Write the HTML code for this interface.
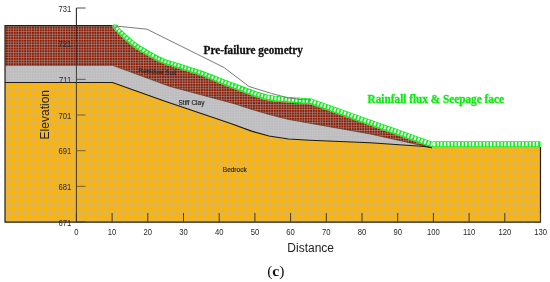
<!DOCTYPE html>
<html><head><meta charset="utf-8"><title>Slope model</title>
<style>
html,body{margin:0;padding:0;background:#fff;width:550px;height:282px;overflow:hidden}
svg{display:block}
.tk{font-family:"Liberation Sans",Arial,sans-serif;font-size:8.5px;fill:#26262c}
.ax{font-family:"Liberation Sans",Arial,sans-serif;font-size:12px;fill:#222}
.sm{font-family:"Liberation Sans",Arial,sans-serif;font-size:6.5px;fill:#222;stroke:#222;stroke-width:0.15px}
.pf{font-family:"Liberation Serif","Times New Roman",serif;font-weight:bold;font-size:12.4px;fill:#111;stroke:#111;stroke-width:0.3px}
.rf{font-family:"Liberation Serif","Times New Roman",serif;font-weight:bold;font-size:12.6px;fill:#0cec10;stroke:#0cec10;stroke-width:0.35px}
.cap{font-family:"Liberation Serif","Times New Roman",serif;font-weight:bold;font-size:15.6px;fill:#111}
</style></head><body>
<svg width="550" height="282" viewBox="0 0 550 282">
<defs>
<pattern id="pr" width="2.6" height="2.6" patternUnits="userSpaceOnUse">
<rect width="2.6" height="2.6" fill="#8c1a06"/>
<rect width="2.6" height="0.6" fill="#a88e86"/><rect width="0.6" height="2.6" fill="#a88e86"/>
</pattern>
<pattern id="po" width="2.65" height="2.65" patternUnits="userSpaceOnUse">
<rect width="2.65" height="2.65" fill="#ffb500"/>
<rect width="2.65" height="0.5" fill="#d0b47e"/><rect width="0.5" height="2.65" fill="#d0b47e"/>
</pattern>
<pattern id="pg" width="2.6" height="2.6" patternUnits="userSpaceOnUse">
<rect width="2.6" height="2.6" fill="#bcbcbe"/>
<rect width="2.6" height="0.6" fill="#c6c6c8"/><rect width="0.6" height="2.6" fill="#c6c6c8"/>
</pattern>
<filter id="bl" x="-2%" y="-2%" width="104%" height="104%"><feGaussianBlur stdDeviation="0.45"/></filter>
<clipPath id="cg"><rect x="0" y="24.4" width="550" height="200"/></clipPath>
</defs>

<polygon points="111.5,25.7 111.8,26.1 112.1,26.5 112.4,26.9 112.7,27.3 113.0,27.7 113.3,28.1 113.6,28.5 113.9,29.0 114.2,29.4 114.5,29.8 114.8,30.2 115.1,30.6 115.4,31.0 115.7,31.4 116.0,31.8 116.4,32.2 116.7,32.5 117.1,32.9 117.5,33.2 117.8,33.6 118.2,33.9 118.6,34.3 118.9,34.6 119.3,35.0 119.7,35.3 120.1,35.7 120.4,36.0 120.8,36.4 121.2,36.7 121.5,37.1 121.9,37.4 122.3,37.8 122.6,38.1 123.0,38.5 123.4,38.8 123.8,39.2 124.2,39.5 124.6,39.9 124.9,40.2 125.3,40.5 125.7,40.9 126.1,41.2 126.5,41.5 126.9,41.9 127.3,42.2 127.7,42.6 128.1,42.9 128.4,43.2 128.8,43.6 129.2,43.9 129.6,44.3 130.0,44.6 130.4,44.9 130.8,45.2 131.2,45.5 131.6,45.8 132.1,46.1 132.5,46.4 132.9,46.7 133.3,47.0 133.7,47.3 134.1,47.6 134.5,47.9 134.9,48.2 135.4,48.5 135.8,48.8 136.2,49.1 136.6,49.4 137.0,49.7 137.4,50.0 137.9,50.2 138.3,50.5 138.8,50.7 139.2,51.0 139.6,51.2 140.1,51.5 140.5,51.8 140.9,52.0 141.4,52.3 141.8,52.5 142.2,52.8 142.7,53.0 143.1,53.3 143.6,53.5 144.0,53.8 144.5,54.1 144.9,54.3 145.4,54.6 145.8,54.9 146.3,55.1 146.8,55.4 147.2,55.7 147.7,56.0 148.2,56.2 148.6,56.5 149.1,56.8 149.5,57.0 150.0,57.3 150.5,57.5 150.9,57.8 151.4,58.0 151.8,58.3 152.3,58.5 152.8,58.8 153.2,59.0 153.7,59.3 154.2,59.5 154.6,59.8 155.1,60.0 155.6,60.3 156.0,60.5 156.5,60.8 156.9,61.0 157.4,61.3 157.9,61.5 158.3,61.7 158.8,61.9 159.3,62.1 159.8,62.3 160.2,62.5 160.7,62.7 161.2,62.9 161.7,63.2 162.2,63.4 162.6,63.6 163.1,63.8 163.6,64.0 164.1,64.2 164.5,64.4 165.0,64.6 165.5,64.7 166.0,64.9 166.5,65.0 167.0,65.2 167.5,65.3 168.0,65.5 168.5,65.6 169.0,65.8 169.5,65.9 170.0,66.0 170.5,66.2 171.0,66.3 171.5,66.5 172.0,66.6 172.5,66.8 173.0,66.9 173.5,67.1 174.0,67.2 174.5,67.4 175.0,67.5 175.5,67.7 176.0,67.8 176.4,68.0 176.9,68.1 177.4,68.3 177.9,68.4 178.4,68.6 178.9,68.7 179.3,68.9 179.8,69.1 180.3,69.2 180.8,69.4 181.3,69.5 181.7,69.7 182.2,69.8 182.7,70.0 183.2,70.1 183.7,70.3 184.1,70.5 184.6,70.6 185.1,70.8 185.6,70.9 186.1,71.1 186.6,71.2 187.0,71.4 187.5,71.5 188.0,71.7 188.5,71.9 189.0,72.0 189.5,72.2 190.0,72.3 190.5,72.5 191.0,72.6 191.5,72.8 192.0,72.9 192.5,73.1 193.0,73.2 193.5,73.4 194.0,73.6 194.5,73.7 195.0,73.9 195.5,74.0 196.0,74.2 196.5,74.3 197.0,74.5 197.5,74.6 198.0,74.8 198.5,75.0 199.0,75.2 199.4,75.3 199.9,75.5 200.4,75.7 200.9,75.9 201.3,76.1 201.8,76.2 202.3,76.4 202.8,76.6 203.2,76.8 203.7,77.0 204.2,77.2 204.7,77.3 205.1,77.5 205.6,77.7 206.1,77.9 206.6,78.1 207.0,78.2 207.5,78.4 208.0,78.6 208.5,78.8 208.9,79.0 209.4,79.2 209.8,79.4 210.3,79.6 210.8,79.8 211.2,80.0 211.7,80.2 212.2,80.4 212.6,80.6 213.1,80.8 213.5,81.0 214.0,81.2 214.5,81.3 214.9,81.5 215.4,81.7 215.8,81.9 216.3,82.1 216.8,82.3 217.2,82.5 217.7,82.7 218.2,82.9 218.6,83.1 219.1,83.3 219.5,83.5 220.0,83.7 220.5,83.9 220.9,84.1 221.4,84.2 221.9,84.4 222.4,84.6 222.8,84.8 223.3,85.0 223.8,85.1 224.3,85.3 224.7,85.5 225.2,85.7 225.7,85.9 226.1,86.0 226.6,86.2 227.1,86.4 227.6,86.6 228.0,86.8 228.5,86.9 229.0,87.1 229.5,87.3 229.9,87.5 230.4,87.7 230.9,87.8 231.3,88.0 231.8,88.2 232.3,88.4 232.8,88.6 233.2,88.7 233.7,88.9 234.2,89.1 234.7,89.3 235.1,89.5 235.6,89.6 236.1,89.8 236.5,90.0 237.0,90.2 237.5,90.4 238.0,90.5 238.4,90.7 238.9,90.9 239.4,91.1 239.9,91.3 240.3,91.4 240.8,91.6 241.3,91.8 241.7,92.0 242.2,92.2 242.7,92.3 243.2,92.5 243.6,92.7 244.1,92.9 244.6,93.1 245.1,93.2 245.5,93.4 246.0,93.6 246.5,93.8 247.0,94.0 247.4,94.1 247.9,94.3 248.4,94.5 248.9,94.7 249.3,94.8 249.8,95.0 250.3,95.2 250.8,95.4 251.2,95.5 251.7,95.7 252.2,95.9 252.7,96.1 253.1,96.2 253.6,96.4 254.1,96.6 254.6,96.8 255.0,96.9 255.5,97.1 256.0,97.3 256.5,97.4 257.0,97.6 257.5,97.7 258.0,97.9 258.5,98.0 259.0,98.2 259.5,98.3 260.0,98.5 260.5,98.6 261.0,98.8 261.5,98.9 262.0,99.0 262.5,99.2 263.0,99.3 263.5,99.5 264.0,99.6 264.5,99.8 265.0,99.9 265.5,100.1 266.0,100.2 266.5,100.3 267.0,100.4 267.5,100.4 268.0,100.5 268.5,100.6 269.0,100.7 269.5,100.8 270.0,100.8 270.5,100.9 271.0,101.0 271.5,101.1 272.0,101.2 272.5,101.2 273.0,101.3 273.5,101.4 274.0,101.5 274.5,101.6 275.0,101.6 275.5,101.7 276.0,101.8 276.5,101.8 277.0,101.9 277.5,101.9 278.0,102.0 278.5,102.0 279.0,102.0 279.5,102.1 280.0,102.1 280.5,102.2 281.0,102.2 281.5,102.2 282.0,102.3 282.5,102.3 283.0,102.4 283.5,102.4 284.0,102.4 284.5,102.5 285.0,102.5 285.5,102.6 286.0,102.6 286.5,102.6 287.0,102.7 287.5,102.7 288.0,102.7 288.5,102.8 289.0,102.8 289.5,102.8 290.0,102.9 290.5,102.9 291.0,103.0 291.5,103.0 292.0,103.0 292.5,103.1 293.0,103.1 293.5,103.1 294.0,103.2 294.5,103.2 295.0,103.2 295.5,103.3 296.0,103.3 296.5,103.3 297.0,103.4 297.5,103.4 298.0,103.4 298.5,103.5 299.0,103.5 299.5,103.6 300.0,103.6 300.5,103.6 301.0,103.7 301.5,103.7 302.0,103.7 302.5,103.8 303.0,103.8 303.5,103.8 304.0,103.9 304.5,103.9 305.0,103.9 305.5,104.0 306.0,104.0 306.5,104.1 307.0,104.1 307.5,104.1 308.0,104.2 308.5,104.2 309.0,104.2 309.5,104.3 310.0,104.3 310.5,104.5 310.9,104.6 311.4,104.8 311.9,105.0 312.4,105.1 312.8,105.3 313.3,105.5 313.8,105.6 314.2,105.8 314.7,106.0 315.2,106.1 315.7,106.3 316.1,106.5 316.6,106.7 317.1,106.8 317.5,107.0 318.0,107.2 318.5,107.3 318.9,107.5 319.4,107.7 319.9,107.8 320.4,108.0 320.8,108.2 321.3,108.3 321.8,108.5 322.2,108.7 322.7,108.8 323.2,109.0 323.7,109.2 324.1,109.3 324.6,109.5 325.1,109.7 325.5,109.8 326.0,110.0 326.5,110.2 327.0,110.3 327.4,110.5 327.9,110.7 328.4,110.9 328.8,111.0 329.3,111.2 329.8,111.4 330.3,111.5 330.7,111.7 331.2,111.9 331.7,112.0 332.1,112.2 332.6,112.4 333.1,112.5 333.6,112.7 334.0,112.9 334.5,113.0 335.0,113.2 335.4,113.4 335.9,113.5 336.4,113.7 336.8,113.9 337.3,114.0 337.8,114.2 338.3,114.4 338.7,114.5 339.2,114.7 339.7,114.9 340.1,115.0 340.6,115.2 341.1,115.4 341.6,115.6 342.0,115.7 342.5,115.9 343.0,116.1 343.4,116.2 343.9,116.4 344.4,116.6 344.9,116.7 345.3,116.9 345.8,117.1 346.3,117.2 346.7,117.4 347.2,117.6 347.7,117.7 348.2,117.9 348.6,118.1 349.1,118.2 349.6,118.4 350.0,118.6 350.5,118.7 351.0,118.9 351.5,119.1 351.9,119.2 352.4,119.4 352.9,119.6 353.3,119.8 353.8,119.9 354.3,120.1 354.7,120.3 355.2,120.4 355.7,120.6 356.2,120.8 356.6,120.9 357.1,121.1 357.6,121.3 358.0,121.4 358.5,121.6 359.0,121.8 359.5,121.9 359.9,122.1 360.4,122.3 360.9,122.4 361.3,122.6 361.8,122.8 362.3,122.9 362.8,123.1 363.2,123.3 363.7,123.4 364.2,123.6 364.6,123.8 365.1,124.0 365.6,124.1 366.1,124.3 366.5,124.5 367.0,124.6 367.5,124.8 367.9,125.0 368.4,125.1 368.9,125.3 369.4,125.5 369.8,125.6 370.3,125.8 370.8,126.0 371.2,126.1 371.7,126.3 372.2,126.5 372.6,126.6 373.1,126.8 373.6,127.0 374.1,127.1 374.5,127.3 375.0,127.5 375.5,127.6 375.9,127.8 376.4,128.0 376.9,128.1 377.4,128.3 377.8,128.5 378.3,128.7 378.8,128.8 379.2,129.0 379.7,129.2 380.2,129.3 380.7,129.5 381.1,129.7 381.6,129.8 382.1,130.0 382.5,130.2 383.0,130.3 383.5,130.5 384.0,130.7 384.4,130.8 384.9,131.0 385.4,131.2 385.8,131.3 386.3,131.5 386.8,131.7 387.3,131.8 387.7,132.0 388.2,132.2 388.7,132.3 389.1,132.5 389.6,132.7 390.1,132.9 390.5,133.0 391.0,133.2 391.5,133.4 392.0,133.5 392.4,133.7 392.9,133.9 393.4,134.0 393.8,134.2 394.3,134.4 394.8,134.5 395.3,134.7 395.7,134.9 396.2,135.0 396.7,135.2 397.1,135.4 397.6,135.5 398.1,135.7 398.6,135.9 399.0,136.0 399.5,136.2 400.0,136.4 400.4,136.5 400.9,136.7 401.4,136.9 401.9,137.1 402.3,137.2 402.8,137.4 403.3,137.6 403.7,137.7 404.2,137.9 404.7,138.1 405.2,138.2 405.6,138.4 406.1,138.6 406.6,138.7 407.0,138.9 407.5,139.1 408.0,139.2 408.4,139.4 408.9,139.6 409.4,139.7 409.9,139.9 410.3,140.1 410.8,140.2 411.3,140.4 411.7,140.6 412.2,140.7 412.7,140.9 413.2,141.1 413.6,141.2 414.1,141.4 414.6,141.6 415.0,141.8 415.5,141.9 416.0,142.1 416.5,142.3 416.9,142.4 417.4,142.6 417.9,142.8 418.3,142.9 418.8,143.1 419.3,143.3 419.8,143.4 420.2,143.6 420.7,143.8 421.2,143.9 421.6,144.1 422.1,144.3 422.6,144.4 423.1,144.6 423.5,144.8 424.0,144.9 424.5,145.1 424.9,145.3 425.4,145.4 425.9,145.6 426.3,145.8 426.8,146.0 427.3,146.1 427.8,146.3 428.2,146.5 428.7,146.6 429.2,146.8 429.6,147.0 430.1,147.1 430.6,147.3 431.1,147.5 431.5,147.6 432.0,147.8 432.5,147.8 433.0,147.8 433.5,147.8 434.0,147.8 434.5,147.8 435.0,147.8 435.5,147.8 436.0,147.8 436.5,147.8 437.0,147.8 437.5,147.8 438.0,147.8 438.5,147.8 439.0,147.8 439.5,147.8 440.0,147.8 440.5,147.8 441.0,147.8 441.5,147.8 442.0,147.8 442.5,147.8 443.0,147.8 443.5,147.8 444.0,147.8 444.5,147.8 445.0,147.8 445.5,147.8 446.0,147.8 446.5,147.8 447.0,147.8 447.5,147.8 448.0,147.8 448.5,147.8 449.0,147.8 449.5,147.8 450.0,147.8 450.5,147.8 451.0,147.8 451.5,147.8 452.0,147.8 452.5,147.8 453.0,147.8 453.5,147.8 454.0,147.8 454.5,147.8 455.0,147.8 455.5,147.8 456.0,147.8 456.5,147.8 457.0,147.8 457.5,147.8 458.0,147.8 458.5,147.8 459.0,147.8 459.5,147.8 460.0,147.8 460.5,147.8 461.0,147.8 461.5,147.8 462.0,147.8 462.5,147.8 463.0,147.8 463.5,147.8 464.0,147.8 464.5,147.8 465.0,147.8 465.5,147.8 466.0,147.8 466.5,147.8 467.0,147.8 467.5,147.8 468.0,147.8 468.5,147.8 469.0,147.8 469.5,147.8 470.0,147.8 470.5,147.8 471.0,147.8 471.5,147.8 472.0,147.8 472.5,147.8 473.0,147.8 473.5,147.8 474.0,147.8 474.5,147.8 475.0,147.8 475.5,147.8 476.0,147.8 476.5,147.8 477.0,147.8 477.5,147.8 478.0,147.8 478.5,147.8 479.0,147.8 479.5,147.8 480.0,147.8 480.5,147.8 481.0,147.8 481.5,147.8 482.0,147.8 482.5,147.8 483.0,147.8 483.5,147.8 484.0,147.8 484.5,147.8 485.0,147.8 485.5,147.8 486.0,147.8 486.5,147.8 487.0,147.8 487.5,147.8 488.0,147.8 488.5,147.8 489.0,147.8 489.5,147.8 490.0,147.8 490.5,147.8 491.0,147.8 491.5,147.8 492.0,147.8 492.5,147.8 493.0,147.8 493.5,147.8 494.0,147.8 494.5,147.8 495.0,147.8 495.5,147.8 496.0,147.8 496.5,147.8 497.0,147.8 497.5,147.8 498.0,147.8 498.5,147.8 499.0,147.8 499.5,147.8 500.0,147.8 500.5,147.8 501.0,147.8 501.5,147.8 502.0,147.8 502.5,147.8 503.0,147.8 503.5,147.8 504.0,147.8 504.5,147.8 505.0,147.8 505.5,147.8 506.0,147.8 506.5,147.8 507.0,147.8 507.5,147.8 508.0,147.8 508.5,147.8 509.0,147.8 509.5,147.8 510.0,147.8 510.5,147.8 511.0,147.8 511.5,147.8 512.0,147.8 512.5,147.8 513.0,147.8 513.5,147.8 514.0,147.8 514.5,147.8 515.0,147.8 515.5,147.8 516.0,147.8 516.5,147.8 517.0,147.8 517.5,147.8 518.0,147.8 518.5,147.8 519.0,147.8 519.5,147.8 520.0,147.8 520.5,147.8 521.0,147.8 521.5,147.8 522.0,147.8 522.5,147.8 523.0,147.8 523.5,147.8 524.0,147.8 524.5,147.8 525.0,147.8 525.5,147.8 526.0,147.8 526.5,147.8 527.0,147.8 527.5,147.8 528.0,147.8 528.5,147.8 529.0,147.8 529.5,147.8 530.0,147.8 530.5,147.8 531.0,147.8 531.5,147.8 532.0,147.8 532.5,147.8 533.0,147.8 533.5,147.8 534.0,147.8 534.5,147.8 535.0,147.8 535.5,147.8 536.0,147.8 536.5,147.8 537.0,147.8 537.5,147.8 538.0,147.8 538.5,147.8 539.0,147.8 539.5,147.8 540.0,147.8 540.5,147.8 540.5,141.2 540.0,141.2 539.5,141.2 539.0,141.2 538.5,141.2 538.0,141.2 537.5,141.2 537.0,141.2 536.5,141.2 536.0,141.2 535.5,141.2 535.0,141.2 534.5,141.2 534.0,141.2 533.5,141.2 533.0,141.2 532.5,141.2 532.0,141.2 531.5,141.2 531.0,141.2 530.5,141.2 530.0,141.2 529.5,141.2 529.0,141.2 528.5,141.2 528.0,141.2 527.5,141.2 527.0,141.2 526.5,141.2 526.0,141.2 525.5,141.2 525.0,141.2 524.5,141.2 524.0,141.2 523.5,141.2 523.0,141.2 522.5,141.2 522.0,141.2 521.5,141.2 521.0,141.2 520.5,141.2 520.0,141.2 519.5,141.2 519.0,141.2 518.5,141.2 518.0,141.2 517.5,141.2 517.0,141.2 516.5,141.2 516.0,141.2 515.5,141.2 515.0,141.2 514.5,141.2 514.0,141.2 513.5,141.2 513.0,141.2 512.5,141.2 512.0,141.2 511.5,141.2 511.0,141.2 510.5,141.2 510.0,141.2 509.5,141.2 509.0,141.2 508.5,141.2 508.0,141.2 507.5,141.2 507.0,141.2 506.5,141.2 506.0,141.2 505.5,141.2 505.0,141.2 504.5,141.2 504.0,141.2 503.5,141.2 503.0,141.2 502.5,141.2 502.0,141.2 501.5,141.2 501.0,141.2 500.5,141.2 500.0,141.2 499.5,141.2 499.0,141.2 498.5,141.2 498.0,141.2 497.5,141.2 497.0,141.2 496.5,141.2 496.0,141.2 495.5,141.2 495.0,141.2 494.5,141.2 494.0,141.2 493.5,141.2 493.0,141.2 492.5,141.2 492.0,141.2 491.5,141.2 491.0,141.2 490.5,141.2 490.0,141.2 489.5,141.2 489.0,141.2 488.5,141.2 488.0,141.2 487.5,141.2 487.0,141.2 486.5,141.2 486.0,141.2 485.5,141.2 485.0,141.2 484.5,141.2 484.0,141.2 483.5,141.2 483.0,141.2 482.5,141.2 482.0,141.2 481.5,141.2 481.0,141.2 480.5,141.2 480.0,141.2 479.5,141.2 479.0,141.2 478.5,141.2 478.0,141.2 477.5,141.2 477.0,141.2 476.5,141.2 476.0,141.2 475.5,141.2 475.0,141.2 474.5,141.2 474.0,141.2 473.5,141.2 473.0,141.2 472.5,141.2 472.0,141.2 471.5,141.2 471.0,141.2 470.5,141.2 470.0,141.2 469.5,141.2 469.0,141.2 468.5,141.2 468.0,141.2 467.5,141.2 467.0,141.2 466.5,141.2 466.0,141.2 465.5,141.2 465.0,141.2 464.5,141.2 464.0,141.2 463.5,141.2 463.0,141.2 462.5,141.2 462.0,141.2 461.5,141.2 461.0,141.2 460.5,141.2 460.0,141.2 459.5,141.2 459.0,141.2 458.5,141.2 458.0,141.2 457.5,141.2 457.0,141.2 456.5,141.2 456.0,141.2 455.5,141.2 455.0,141.2 454.5,141.2 454.0,141.2 453.5,141.2 453.0,141.2 452.5,141.2 452.0,141.2 451.5,141.2 451.0,141.2 450.5,141.2 450.0,141.2 449.5,141.2 449.0,141.2 448.5,141.2 448.0,141.2 447.5,141.2 447.0,141.2 446.5,141.2 446.0,141.2 445.5,141.2 445.0,141.2 444.5,141.2 444.0,141.2 443.5,141.2 443.0,141.2 442.5,141.2 442.0,141.2 441.5,141.2 441.0,141.2 440.5,141.2 440.0,141.2 439.5,141.2 439.0,141.2 438.5,141.2 438.0,141.2 437.5,141.2 437.0,141.2 436.5,141.2 436.0,141.2 435.5,141.2 435.0,141.2 434.5,141.2 434.0,141.2 433.5,141.2 433.0,141.2 433.1,141.2 433.1,141.3 433.0,141.9 433.0,141.9 432.6,141.7 432.1,141.6 431.6,141.4 431.2,141.2 430.7,141.1 430.2,140.9 429.7,140.7 429.3,140.6 428.8,140.4 428.3,140.2 427.9,140.1 427.4,139.9 426.9,139.7 426.4,139.6 426.0,139.4 425.5,139.2 425.0,139.1 424.6,138.9 424.1,138.7 423.6,138.5 423.1,138.4 422.7,138.2 422.2,138.0 421.7,137.9 421.3,137.7 420.8,137.5 420.3,137.4 419.9,137.2 419.4,137.0 418.9,136.9 418.4,136.7 418.0,136.5 417.5,136.4 417.0,136.2 416.6,136.0 416.1,135.9 415.6,135.7 415.1,135.5 414.7,135.4 414.2,135.2 413.7,135.0 413.3,134.9 412.8,134.7 412.3,134.5 411.8,134.3 411.4,134.2 410.9,134.0 410.4,133.8 410.0,133.7 409.5,133.5 409.0,133.3 408.5,133.2 408.1,133.0 407.6,132.8 407.1,132.7 406.7,132.5 406.2,132.3 405.7,132.2 405.2,132.0 404.8,131.8 404.3,131.7 403.8,131.5 403.4,131.3 402.9,131.2 402.4,131.0 402.0,130.8 401.5,130.7 401.0,130.5 400.5,130.3 400.1,130.2 399.6,130.0 399.1,129.8 398.7,129.6 398.2,129.5 397.7,129.3 397.2,129.1 396.8,129.0 396.3,128.8 395.8,128.6 395.4,128.5 394.9,128.3 394.4,128.1 393.9,128.0 393.5,127.8 393.0,127.6 392.5,127.5 392.1,127.3 391.6,127.1 391.1,127.0 390.6,126.8 390.2,126.6 389.7,126.5 389.2,126.3 388.8,126.1 388.3,126.0 387.8,125.8 387.3,125.6 386.9,125.4 386.4,125.3 385.9,125.1 385.5,124.9 385.0,124.8 384.5,124.6 384.1,124.4 383.6,124.3 383.1,124.1 382.6,123.9 382.2,123.8 381.7,123.6 381.2,123.4 380.8,123.3 380.3,123.1 379.8,122.9 379.3,122.8 378.9,122.6 378.4,122.4 377.9,122.3 377.5,122.1 377.0,121.9 376.5,121.8 376.0,121.6 375.6,121.4 375.1,121.2 374.6,121.1 374.2,120.9 373.7,120.7 373.2,120.6 372.7,120.4 372.3,120.2 371.8,120.1 371.3,119.9 370.9,119.7 370.4,119.6 369.9,119.4 369.4,119.2 369.0,119.1 368.5,118.9 368.0,118.7 367.6,118.6 367.1,118.4 366.6,118.2 366.2,118.1 365.7,117.9 365.2,117.7 364.7,117.6 364.3,117.4 363.8,117.2 363.3,117.0 362.9,116.9 362.4,116.7 361.9,116.5 361.4,116.4 361.0,116.2 360.5,116.0 360.0,115.9 359.6,115.7 359.1,115.5 358.6,115.4 358.1,115.2 357.7,115.0 357.2,114.9 356.7,114.7 356.3,114.5 355.8,114.4 355.3,114.2 354.8,114.0 354.4,113.9 353.9,113.7 353.4,113.5 353.0,113.4 352.5,113.2 352.0,113.0 351.5,112.9 351.1,112.7 350.6,112.5 350.1,112.3 349.7,112.2 349.2,112.0 348.7,111.8 348.3,111.7 347.8,111.5 347.3,111.3 346.8,111.2 346.4,111.0 345.9,110.8 345.4,110.7 345.0,110.5 344.5,110.3 344.0,110.2 343.5,110.0 343.1,109.8 342.6,109.7 342.1,109.5 341.7,109.3 341.2,109.2 340.7,109.0 340.2,108.8 339.8,108.7 339.3,108.5 338.8,108.3 338.4,108.1 337.9,108.0 337.4,107.8 336.9,107.6 336.5,107.5 336.0,107.3 335.5,107.1 335.1,107.0 334.6,106.8 334.1,106.6 333.6,106.5 333.2,106.3 332.7,106.1 332.2,106.0 331.8,105.8 331.3,105.6 330.8,105.5 330.4,105.3 329.9,105.1 329.4,105.0 328.9,104.8 328.5,104.6 328.0,104.5 327.5,104.3 327.1,104.1 326.6,103.9 326.1,103.8 325.6,103.6 325.2,103.4 324.7,103.3 324.2,103.1 323.8,102.9 323.3,102.8 322.8,102.6 322.3,102.4 321.9,102.3 321.4,102.1 320.9,101.9 320.5,101.8 320.0,101.6 319.5,101.4 319.0,101.3 318.6,101.1 318.1,100.9 317.6,100.8 317.2,100.6 316.7,100.4 316.2,100.3 315.7,100.1 315.3,99.9 314.8,99.8 314.3,99.6 313.9,99.4 313.4,99.2 312.9,99.1 312.1,98.8 311.2,98.5 310.3,98.4 309.4,98.3 308.9,98.3 308.4,98.3 307.9,98.2 307.4,98.2 306.9,98.2 306.4,98.1 305.9,98.1 305.4,98.1 304.9,98.0 304.4,98.0 303.9,98.0 303.4,97.9 302.9,97.9 302.4,97.8 301.9,97.8 301.4,97.8 300.9,97.7 300.4,97.7 299.9,97.7 299.4,97.6 298.9,97.6 298.4,97.6 297.9,97.5 297.4,97.5 296.9,97.5 296.4,97.4 295.9,97.4 295.4,97.4 294.9,97.3 294.4,97.3 293.9,97.3 293.4,97.2 292.9,97.2 292.4,97.2 291.9,97.1 291.4,97.1 290.9,97.1 290.4,97.0 289.9,97.0 289.4,97.0 288.9,96.9 288.4,96.9 287.9,96.9 287.4,96.8 286.9,96.8 286.4,96.8 286.0,96.7 285.5,96.7 285.0,96.6 284.5,96.6 284.0,96.6 283.5,96.5 283.0,96.5 282.5,96.5 282.0,96.4 281.5,96.4 281.0,96.3 280.5,96.3 280.0,96.3 279.5,96.2 279.0,96.2 278.5,96.1 278.0,96.1 277.5,96.1 277.1,96.0 276.7,96.0 276.3,96.0 275.9,95.9 275.4,95.8 274.9,95.7 274.4,95.7 273.9,95.6 273.4,95.5 272.9,95.4 272.4,95.3 271.9,95.3 271.4,95.2 270.9,95.1 270.4,95.0 269.9,94.9 269.4,94.9 268.9,94.8 268.4,94.7 267.9,94.6 267.6,94.6 267.3,94.5 266.9,94.4 266.6,94.3 266.1,94.2 265.6,94.1 265.1,93.9 264.6,93.8 264.1,93.6 263.6,93.5 263.1,93.3 262.6,93.2 262.1,93.1 261.6,92.9 261.1,92.8 260.6,92.6 260.1,92.5 259.6,92.3 259.1,92.2 258.6,92.1 258.2,91.9 257.8,91.8 257.4,91.7 257.0,91.5 256.6,91.4 256.1,91.2 255.6,91.0 255.1,90.8 254.7,90.7 254.2,90.5 253.7,90.3 253.2,90.1 252.8,90.0 252.3,89.8 251.8,89.6 251.3,89.4 250.8,89.3 250.4,89.1 249.9,88.9 249.4,88.7 248.9,88.6 248.5,88.4 248.0,88.2 247.6,88.1 247.1,87.9 246.6,87.7 246.1,87.5 245.7,87.3 245.2,87.2 244.7,87.0 244.3,86.8 243.8,86.6 243.3,86.5 242.8,86.3 242.4,86.1 241.9,85.9 241.4,85.7 240.9,85.6 240.5,85.4 240.0,85.2 239.5,85.0 239.0,84.8 238.6,84.7 238.1,84.5 237.6,84.3 237.2,84.1 236.7,84.0 236.2,83.8 235.7,83.6 235.3,83.4 234.8,83.3 234.3,83.1 233.8,82.9 233.4,82.7 232.9,82.6 232.4,82.4 231.9,82.2 231.5,82.0 231.0,81.9 230.5,81.7 230.0,81.5 229.6,81.3 229.1,81.2 228.6,81.0 228.1,80.8 227.7,80.6 227.2,80.5 226.7,80.3 226.2,80.1 225.8,79.9 225.3,79.8 224.8,79.6 224.3,79.4 223.9,79.2 223.4,79.1 222.9,78.9 222.5,78.7 222.1,78.6 221.6,78.4 221.2,78.2 220.8,78.1 220.3,77.9 219.8,77.7 219.4,77.5 218.9,77.3 218.4,77.1 218.0,76.9 217.5,76.7 217.1,76.5 216.6,76.3 216.1,76.1 215.7,76.0 215.2,75.8 214.7,75.6 214.3,75.4 213.8,75.2 213.3,75.0 212.9,74.8 212.4,74.6 212.0,74.4 211.5,74.2 211.0,74.0 210.5,73.8 210.0,73.6 209.5,73.4 208.9,73.2 208.5,73.1 208.0,72.9 207.5,72.7 207.0,72.5 206.6,72.4 206.1,72.2 205.6,72.0 205.1,71.8 204.6,71.7 204.2,71.5 203.7,71.3 203.2,71.1 202.7,71.0 202.3,70.8 201.8,70.6 201.3,70.4 200.8,70.3 200.3,70.1 199.7,69.8 199.1,69.7 198.5,69.5 198.0,69.4 197.5,69.2 197.0,69.1 196.5,68.9 196.0,68.7 195.5,68.6 195.0,68.4 194.5,68.3 194.0,68.1 193.5,68.0 193.0,67.8 192.5,67.7 192.0,67.5 191.5,67.4 191.0,67.2 190.5,67.0 190.1,66.9 189.6,66.7 189.1,66.6 188.6,66.4 188.2,66.3 187.7,66.1 187.2,66.0 186.7,65.8 186.2,65.7 185.7,65.5 185.3,65.4 184.8,65.2 184.3,65.0 183.8,64.9 183.3,64.7 182.9,64.6 182.4,64.4 181.9,64.3 181.4,64.1 180.9,64.0 180.5,63.8 180.0,63.6 179.5,63.5 179.0,63.3 178.5,63.2 178.0,63.0 177.6,62.9 177.0,62.7 176.5,62.5 176.0,62.4 175.4,62.2 174.9,62.1 174.4,61.9 173.9,61.8 173.4,61.6 172.9,61.5 172.4,61.3 171.9,61.2 171.4,61.1 170.9,60.9 170.4,60.8 169.9,60.6 169.4,60.5 168.9,60.3 168.4,60.2 167.9,60.0 167.4,59.9 167.1,59.8 166.8,59.7 166.4,59.6 166.1,59.4 165.6,59.2 165.2,59.0 164.7,58.8 164.2,58.6 163.7,58.4 163.3,58.2 162.8,58.0 162.3,57.8 161.8,57.6 161.4,57.4 160.9,57.1 160.4,56.9 160.0,56.8 159.7,56.6 159.3,56.4 158.9,56.2 158.5,56.0 158.0,55.7 157.6,55.5 157.1,55.2 156.6,55.0 156.2,54.7 155.7,54.5 155.2,54.2 154.8,54.0 154.3,53.7 153.9,53.5 153.4,53.2 153.0,53.0 152.5,52.8 152.1,52.5 151.7,52.3 151.2,52.0 150.8,51.7 150.3,51.5 149.9,51.2 149.4,50.9 148.9,50.7 148.5,50.4 148.0,50.1 147.5,49.8 147.1,49.6 146.6,49.3 146.2,49.1 145.8,48.8 145.3,48.5 144.9,48.3 144.4,48.0 144.0,47.8 143.6,47.5 143.1,47.3 142.7,47.0 142.3,46.8 141.8,46.5 141.4,46.2 140.9,46.0 140.5,45.7 140.2,45.5 139.8,45.4 139.5,45.1 139.2,44.9 138.8,44.6 138.4,44.3 138.0,44.0 137.6,43.7 137.2,43.4 136.8,43.1 136.4,42.8 135.9,42.5 135.5,42.2 135.1,41.9 134.7,41.6 134.3,41.3 133.9,41.0 133.6,40.8 133.2,40.5 132.9,40.3 132.6,40.0 132.2,39.7 131.9,39.3 131.5,39.0 131.1,38.6 130.7,38.3 130.3,38.0 129.9,37.6 129.5,37.3 129.1,37.0 128.7,36.6 128.4,36.3 128.0,35.9 127.6,35.6 127.2,35.3 126.9,35.0 126.5,34.7 126.2,34.3 125.9,34.0 125.5,33.7 125.1,33.3 124.8,33.0 124.4,32.6 124.0,32.3 123.6,31.9 123.3,31.6 122.9,31.2 122.5,30.9 122.2,30.5 121.8,30.2 121.4,29.8 121.1,29.5 120.7,29.1 120.3,28.7 120.1,28.6 119.9,28.4 119.7,28.1 119.6,27.9 119.3,27.5 119.0,27.1 118.7,26.7 118.4,26.3 118.1,25.9 117.8,25.5 117.5,25.1 117.2,24.6 116.9,24.2 116.6,23.8 116.3,23.4 116.0,23.0 115.7,22.6" fill="#14ec22" clip-path="url(#cg)"/>
<path d="M113.4,25.8L114.6,27.3L116.1,26.2A0.95,0.95 0 0 0 115.0,24.7ZM115.6,28.7L116.7,30.2L118.3,29.0A0.95,0.95 0 0 0 117.1,27.5ZM117.6,31.2L119.0,32.6L120.3,31.2A0.95,0.95 0 0 0 118.9,29.8ZM120.2,33.7L121.5,35.0L122.9,33.6A0.95,0.95 0 0 0 121.5,32.3ZM122.7,36.2L124.1,37.5L125.4,36.1A0.95,0.95 0 0 0 124.1,34.7ZM125.3,38.5L126.7,39.8L128.0,38.3A0.95,0.95 0 0 0 126.6,37.0ZM128.0,40.8L129.4,42.1L130.7,40.6A0.95,0.95 0 0 0 129.2,39.4ZM130.5,43.1L132.1,44.2L133.2,42.7A0.95,0.95 0 0 0 131.7,41.5ZM133.4,45.2L134.9,46.3L136.1,44.8A0.95,0.95 0 0 0 134.5,43.6ZM136.3,47.3L137.8,48.4L138.9,46.8A0.95,0.95 0 0 0 137.4,45.7ZM139.1,49.2L140.7,50.1L141.7,48.5A0.95,0.95 0 0 0 140.1,47.5ZM142.1,51.0L143.8,51.9L144.8,50.3A0.95,0.95 0 0 0 143.1,49.3ZM145.2,52.8L146.8,53.7L147.8,52.0A0.95,0.95 0 0 0 146.2,51.1ZM148.3,54.6L149.9,55.5L150.9,53.8A0.95,0.95 0 0 0 149.3,52.9ZM151.3,56.3L153.0,57.2L153.9,55.5A0.95,0.95 0 0 0 152.2,54.6ZM154.4,58.0L156.1,58.9L157.0,57.2A0.95,0.95 0 0 0 155.4,56.3ZM157.4,59.7L159.2,60.4L159.9,58.6A0.95,0.95 0 0 0 158.2,57.9ZM160.7,61.1L162.4,61.8L163.2,60.1A0.95,0.95 0 0 0 161.4,59.3ZM163.9,62.5L165.7,63.3L166.4,61.5A0.95,0.95 0 0 0 164.7,60.7ZM167.1,63.6L168.9,64.2L169.4,62.3A0.95,0.95 0 0 0 167.6,61.8ZM170.5,64.6L172.3,65.2L172.9,63.3A0.95,0.95 0 0 0 171.0,62.8ZM173.9,65.6L175.7,66.1L176.3,64.3A0.95,0.95 0 0 0 174.4,63.7ZM177.3,66.7L179.1,67.3L179.7,65.4A0.95,0.95 0 0 0 177.9,64.8ZM180.7,67.8L182.5,68.4L183.1,66.5A0.95,0.95 0 0 0 181.3,65.9ZM184.1,68.9L185.9,69.4L186.5,67.6A0.95,0.95 0 0 0 184.7,67.0ZM187.5,70.0L189.3,70.5L189.9,68.7A0.95,0.95 0 0 0 188.1,68.1ZM190.8,71.0L192.7,71.6L193.2,69.7A0.95,0.95 0 0 0 191.4,69.1ZM194.2,72.1L196.0,72.6L196.6,70.8A0.95,0.95 0 0 0 194.8,70.2ZM197.7,73.1L199.5,73.8L200.2,71.9A0.95,0.95 0 0 0 198.4,71.2ZM201.0,74.4L202.8,75.0L203.5,73.1A0.95,0.95 0 0 0 201.8,72.5ZM204.4,75.6L206.1,76.3L206.9,74.4A0.95,0.95 0 0 0 205.1,73.7ZM207.7,76.9L209.5,77.6L210.3,75.7A0.95,0.95 0 0 0 208.6,74.9ZM211.0,78.3L212.8,79.0L213.6,77.0A0.95,0.95 0 0 0 211.9,76.3ZM214.3,79.6L216.0,80.4L216.9,78.4A0.95,0.95 0 0 0 215.1,77.6ZM217.5,81.0L219.3,81.8L220.2,79.7A0.95,0.95 0 0 0 218.4,79.0ZM220.8,82.4L222.5,83.1L223.4,80.9A0.95,0.95 0 0 0 221.6,80.3ZM224.1,83.6L225.9,84.3L226.7,82.2A0.95,0.95 0 0 0 224.9,81.5ZM227.4,84.9L229.2,85.6L230.0,83.4A0.95,0.95 0 0 0 228.2,82.7ZM230.7,86.2L232.5,86.9L233.3,84.6A0.95,0.95 0 0 0 231.6,83.9ZM234.0,87.4L235.8,88.1L236.7,85.8A0.95,0.95 0 0 0 234.9,85.2ZM237.4,88.7L239.1,89.4L240.0,87.1A0.95,0.95 0 0 0 238.2,86.4ZM240.7,90.0L242.4,90.6L243.3,88.3A0.95,0.95 0 0 0 241.6,87.7ZM244.0,91.2L245.8,91.9L246.6,89.6A0.95,0.95 0 0 0 244.9,88.9ZM247.3,92.5L249.1,93.1L249.9,90.8A0.95,0.95 0 0 0 248.2,90.1ZM250.6,93.7L252.4,94.4L253.3,92.0A0.95,0.95 0 0 0 251.5,91.4ZM254.0,94.9L255.7,95.6L256.6,93.2A0.95,0.95 0 0 0 254.8,92.6ZM257.2,96.1L259.0,96.6L259.7,94.2A0.95,0.95 0 0 0 257.9,93.7ZM260.6,97.1L262.4,97.6L263.1,95.2A0.95,0.95 0 0 0 261.3,94.6ZM264.0,98.1 L265.8,98.6 L266.8,95.2 L265.0,94.7ZM267.3,98.9 L269.2,99.2 L269.7,95.7 L267.8,95.4ZM270.8,99.4 L272.7,99.7 L273.2,96.3 L271.3,96.0ZM274.3,100.0 L276.2,100.3 L276.7,96.8 L274.8,96.5ZM277.7,100.4 L279.6,100.6 L279.9,97.1 L278.0,96.9ZM281.2,100.7 L283.1,100.9 L283.4,97.3 L281.5,97.2ZM284.8,101.0 L286.7,101.1 L286.9,97.6 L285.1,97.5ZM288.3,101.3 L290.2,101.4 L290.4,97.8 L288.5,97.7ZM291.8,101.5 L293.7,101.6 L294.0,98.1 L292.1,97.9ZM295.4,101.8 L297.3,101.9 L297.5,98.3 L295.6,98.2ZM298.9,102.0 L300.8,102.1 L301.1,98.6 L299.2,98.4ZM302.5,102.3 L304.4,102.4 L304.6,98.8 L302.7,98.7ZM306.0,102.5 L307.9,102.6 L308.1,99.1 L306.3,98.9ZM310.0,102.7 L311.8,103.3 L313.0,99.9 L311.2,99.3ZM313.3,103.9 L315.1,104.5 L316.3,101.1 L314.5,100.5ZM316.7,105.1 L318.4,105.7 L319.7,102.3 L317.9,101.7ZM320.0,106.3 L321.8,106.9 L323.0,103.5 L321.2,102.9ZM323.3,107.5 L325.1,108.1 L326.3,104.7 L324.6,104.1ZM326.7,108.7 L328.5,109.3 L329.7,105.9 L327.9,105.3ZM330.0,109.9 L331.8,110.5 L333.0,107.1 L331.2,106.5ZM333.4,111.0 L335.2,111.7 L336.4,108.3 L334.6,107.7ZM336.7,112.2 L338.5,112.9 L339.7,109.5 L337.9,108.8ZM340.1,113.4 L341.9,114.1 L343.1,110.7 L341.3,110.0ZM343.4,114.6 L345.2,115.3 L346.4,111.9 L344.6,111.2ZM346.8,115.8 L348.5,116.4 L349.8,113.1 L348.0,112.4ZM350.1,117.0 L351.9,117.6 L353.1,114.3 L351.3,113.6ZM353.4,118.2 L355.2,118.8 L356.4,115.4 L354.6,114.8ZM356.8,119.4 L358.6,120.0 L359.8,116.6 L358.0,116.0ZM360.1,120.6 L361.9,121.2 L363.1,117.8 L361.3,117.2ZM363.5,121.8 L365.3,122.4 L366.5,119.0 L364.7,118.4ZM366.8,123.0 L368.6,123.6 L369.8,120.2 L368.0,119.6ZM370.2,124.2 L371.9,124.8 L373.2,121.4 L371.4,120.8ZM373.5,125.3 L375.3,126.0 L376.5,122.6 L374.7,122.0ZM376.8,126.5 L378.6,127.2 L379.8,123.8 L378.1,123.2ZM380.2,127.7 L382.0,128.4 L383.2,125.0 L381.4,124.3ZM383.5,128.9 L385.3,129.6 L386.5,126.2 L384.7,125.5ZM386.9,130.1 L388.7,130.8 L389.9,127.4 L388.1,126.7ZM390.2,131.3 L392.0,131.9 L393.2,128.6 L391.4,127.9ZM393.6,132.5 L395.4,133.1 L396.6,129.8 L394.8,129.1ZM396.9,133.7 L398.7,134.3 L399.9,130.9 L398.1,130.3ZM400.3,134.9 L402.0,135.5 L403.3,132.1 L401.5,131.5ZM403.6,136.1 L405.4,136.7 L406.6,133.3 L404.8,132.7ZM406.9,137.3 L408.7,137.9 L409.9,134.5 L408.1,133.9ZM410.3,138.5 L412.1,139.1 L413.3,135.7 L411.5,135.1ZM413.6,139.7 L415.4,140.3 L416.6,136.9 L414.8,136.3ZM417.0,140.8 L418.8,141.5 L420.0,138.1 L418.2,137.5ZM420.3,142.0 L422.1,142.7 L423.3,139.3 L421.5,138.7ZM423.7,143.2 L425.4,143.9 L426.7,140.5 L424.9,139.8ZM427.0,144.4 L428.8,145.1 L430.0,141.7 L428.2,141.0ZM430.3,145.6 L432.1,146.3 L433.3,142.9 L431.6,142.2ZM433.3,146.3 L435.2,146.3 L435.2,142.0 L433.3,142.0ZM436.8,146.3 L438.7,146.3 L438.7,142.0 L436.8,142.0ZM440.4,146.3 L442.3,146.3 L442.3,142.0 L440.4,142.0ZM443.9,146.3 L445.8,146.3 L445.8,142.0 L443.9,142.0ZM447.5,146.3 L449.4,146.3 L449.4,142.0 L447.5,142.0ZM451.0,146.3 L452.9,146.3 L452.9,142.0 L451.0,142.0ZM454.6,146.3 L456.5,146.3 L456.5,142.0 L454.6,142.0ZM458.1,146.3 L460.0,146.3 L460.0,142.0 L458.1,142.0ZM461.7,146.3 L463.6,146.3 L463.6,142.0 L461.7,142.0ZM465.2,146.3 L467.1,146.3 L467.1,142.0 L465.2,142.0ZM468.8,146.3 L470.7,146.3 L470.7,142.0 L468.8,142.0ZM472.3,146.3 L474.2,146.3 L474.2,142.0 L472.3,142.0ZM475.9,146.3 L477.8,146.3 L477.8,142.0 L475.9,142.0ZM479.4,146.3 L481.3,146.3 L481.3,142.0 L479.4,142.0ZM483.0,146.3 L484.9,146.3 L484.9,142.0 L483.0,142.0ZM486.5,146.3 L488.4,146.3 L488.4,142.0 L486.5,142.0ZM490.1,146.3 L492.0,146.3 L492.0,142.0 L490.1,142.0ZM493.6,146.3 L495.5,146.3 L495.5,142.0 L493.6,142.0ZM497.2,146.3 L499.1,146.3 L499.1,142.0 L497.2,142.0ZM500.7,146.3 L502.6,146.3 L502.6,142.0 L500.7,142.0ZM504.3,146.3 L506.2,146.3 L506.2,142.0 L504.3,142.0ZM507.8,146.3 L509.7,146.3 L509.7,142.0 L507.8,142.0ZM511.4,146.3 L513.3,146.3 L513.3,142.0 L511.4,142.0ZM514.9,146.3 L516.8,146.3 L516.8,142.0 L514.9,142.0ZM518.5,146.3 L520.4,146.3 L520.4,142.0 L518.5,142.0ZM522.0,146.3 L523.9,146.3 L523.9,142.0 L522.0,142.0ZM525.6,146.3 L527.5,146.3 L527.5,142.0 L525.6,142.0ZM529.1,146.3 L531.0,146.3 L531.0,142.0 L529.1,142.0ZM532.7,146.3 L534.6,146.3 L534.6,142.0 L532.7,142.0ZM536.2,146.3 L538.1,146.3 L538.1,142.0 L536.2,142.0Z" fill="#fdfffd" clip-path="url(#cg)"/>
<g filter="url(#bl)">
<polygon points="5,25.7 111.5,25.7 116,31.8 123,38.5 130,44.6 137,49.7 144,53.8 150,57.3 157.4,61.3 165,64.6 175,67.5 188,71.7 198,74.8 208,78.6 220,83.7 246,93.6 256,97.3 266,100.2 276,101.8 286,102.6 310,104.3 432,147.8 540.5,147.8 540.5,222.2 5,222.2" fill="url(#po)"/>
<polygon points="5,65.3 112.4,65.3 170,86.5 235,103.9 249.5,108.7 269,114.5 288.5,119.4 310,123.3 370,133.9 424,146 432,147.8 432,147.8 425,146.5 370,142.7 310,140.3 288.5,139 269,136 251.5,131.1 230,123.3 165,101.3 112.4,82.5 5,82.5" fill="url(#pg)"/>
<polygon points="5,25.7 111.5,25.7 116,31.8 123,38.5 130,44.6 137,49.7 144,53.8 150,57.3 157.4,61.3 165,64.6 175,67.5 188,71.7 198,74.8 208,78.6 220,83.7 246,93.6 256,97.3 266,100.2 276,101.8 286,102.6 310,104.3 432,147.8 432,147.8 424,146 370,133.9 310,123.3 288.5,119.4 269,114.5 249.5,108.7 235,103.9 170,86.5 112.4,65.3 5,65.3" fill="url(#pr)"/>
</g>
<polyline points="5,65.3 112.4,65.3 170,86.5 235,103.9 249.5,108.7 269,114.5 288.5,119.4 310,123.3 370,133.9 424,146 432,147.8" fill="none" stroke="#4a3a34" stroke-width="0.8" stroke-opacity="0.8"/>
<polyline points="5,82.5 112.4,82.5 165,101.3 230,123.3 251.5,131.1 269,136 288.5,139 310,140.3 370,142.7 425,146.5 432,147.8" fill="none" stroke="#1e1a14" stroke-width="1.15"/>
<polyline points="112,25.7 5,25.7 5,222.2 540.5,222.2 540.5,147" fill="none" stroke="#2a1c10" stroke-width="1.2"/>
<polyline points="112,25.7 147,29.2 224,67.5 249,86.5 271.4,93.4 287.7,97.8 302,99.7 311,99.9" fill="none" stroke="#7a7a7a" stroke-width="1"/>
<line x1="76.4" y1="8.0" x2="76.4" y2="25.7" stroke="#2b2b2b" stroke-width="1.1"/>
<line x1="76.4" y1="25.7" x2="76.4" y2="65.3" stroke="#2a1410" stroke-opacity="0.75" stroke-width="1"/>
<line x1="76.4" y1="65.3" x2="76.4" y2="82.5" stroke="#3c3c3c" stroke-width="1"/>
<line x1="76.4" y1="82.5" x2="76.4" y2="222.2" stroke="#3e3008" stroke-width="0.95"/>
<line x1="76.4" y1="8.00" x2="85.60000000000001" y2="8.00" stroke="#3a3a3a" stroke-width="0.9"/>
<line x1="76.4" y1="43.67" x2="85.60000000000001" y2="43.67" stroke="#6a4a44" stroke-width="0.9"/>
<line x1="76.4" y1="79.34" x2="85.60000000000001" y2="79.34" stroke="#505050" stroke-width="0.9"/>
<line x1="76.4" y1="115.01" x2="85.60000000000001" y2="115.01" stroke="#6a5a20" stroke-width="0.9"/>
<line x1="76.4" y1="150.68" x2="85.60000000000001" y2="150.68" stroke="#6a5a20" stroke-width="0.9"/>
<line x1="76.4" y1="186.35" x2="85.60000000000001" y2="186.35" stroke="#6a5a20" stroke-width="0.9"/>
<line x1="76.4" y1="222.02" x2="85.60000000000001" y2="222.02" stroke="#3a3a3a" stroke-width="0.9"/>
<line x1="76.40" y1="222.2" x2="76.40" y2="213.0" stroke="#3a3a3a" stroke-width="1"/>
<line x1="112.10" y1="222.2" x2="112.10" y2="213.0" stroke="#3a3a3a" stroke-width="1"/>
<line x1="147.80" y1="222.2" x2="147.80" y2="213.0" stroke="#3a3a3a" stroke-width="1"/>
<line x1="183.50" y1="222.2" x2="183.50" y2="213.0" stroke="#3a3a3a" stroke-width="1"/>
<line x1="219.20" y1="222.2" x2="219.20" y2="213.0" stroke="#3a3a3a" stroke-width="1"/>
<line x1="254.90" y1="222.2" x2="254.90" y2="213.0" stroke="#3a3a3a" stroke-width="1"/>
<line x1="290.60" y1="222.2" x2="290.60" y2="213.0" stroke="#3a3a3a" stroke-width="1"/>
<line x1="326.30" y1="222.2" x2="326.30" y2="213.0" stroke="#3a3a3a" stroke-width="1"/>
<line x1="362.00" y1="222.2" x2="362.00" y2="213.0" stroke="#3a3a3a" stroke-width="1"/>
<line x1="397.70" y1="222.2" x2="397.70" y2="213.0" stroke="#3a3a3a" stroke-width="1"/>
<line x1="433.40" y1="222.2" x2="433.40" y2="213.0" stroke="#3a3a3a" stroke-width="1"/>
<line x1="469.10" y1="222.2" x2="469.10" y2="213.0" stroke="#3a3a3a" stroke-width="1"/>
<line x1="504.80" y1="222.2" x2="504.80" y2="213.0" stroke="#3a3a3a" stroke-width="1"/>
<line x1="540.50" y1="222.2" x2="540.50" y2="213.0" stroke="#3a3a3a" stroke-width="1"/>
<text transform="translate(71.3,11.50) scale(0.9,1)" text-anchor="end" class="tk">731</text>
<text transform="translate(71.3,47.17) scale(0.9,1)" text-anchor="end" class="tk">721</text>
<text transform="translate(71.3,82.84) scale(0.9,1)" text-anchor="end" class="tk">711</text>
<text transform="translate(71.3,118.51) scale(0.9,1)" text-anchor="end" class="tk">701</text>
<text transform="translate(71.3,154.18) scale(0.9,1)" text-anchor="end" class="tk">691</text>
<text transform="translate(71.3,189.85) scale(0.9,1)" text-anchor="end" class="tk">681</text>
<text transform="translate(71.3,225.52) scale(0.9,1)" text-anchor="end" class="tk">671</text>
<text transform="translate(76.40,234.9) scale(0.9,1)" text-anchor="middle" class="tk">0</text>
<text transform="translate(112.10,234.9) scale(0.9,1)" text-anchor="middle" class="tk">10</text>
<text transform="translate(147.80,234.9) scale(0.9,1)" text-anchor="middle" class="tk">20</text>
<text transform="translate(183.50,234.9) scale(0.9,1)" text-anchor="middle" class="tk">30</text>
<text transform="translate(219.20,234.9) scale(0.9,1)" text-anchor="middle" class="tk">40</text>
<text transform="translate(254.90,234.9) scale(0.9,1)" text-anchor="middle" class="tk">50</text>
<text transform="translate(290.60,234.9) scale(0.9,1)" text-anchor="middle" class="tk">60</text>
<text transform="translate(326.30,234.9) scale(0.9,1)" text-anchor="middle" class="tk">70</text>
<text transform="translate(362.00,234.9) scale(0.9,1)" text-anchor="middle" class="tk">80</text>
<text transform="translate(397.70,234.9) scale(0.9,1)" text-anchor="middle" class="tk">90</text>
<text transform="translate(433.40,234.9) scale(0.9,1)" text-anchor="middle" class="tk">100</text>
<text transform="translate(469.10,234.9) scale(0.9,1)" text-anchor="middle" class="tk">110</text>
<text transform="translate(504.80,234.9) scale(0.9,1)" text-anchor="middle" class="tk">120</text>
<text transform="translate(540.50,234.9) scale(0.9,1)" text-anchor="middle" class="tk">130</text>
<text x="310.7" y="252.3" text-anchor="middle" class="ax">Distance</text>
<text transform="translate(49.4,114.7) rotate(-90)" text-anchor="middle" class="ax">Elevation</text>
<text x="178.5" y="105" class="sm">Stiff Clay</text>
<text x="222.8" y="171.6" class="sm">Bedrock</text>
<text x="138.3" y="72.6" class="sm" transform="rotate(4 138.3 72.6)" fill-opacity="0.75">Residual Soil</text>
<text transform="translate(203.6,53.7) scale(0.904,1)" class="pf">Pre-failure geometry</text>
<text transform="translate(367.6,102.6) scale(0.895,1)" class="rf">Rainfall flux &amp; Seepage face</text>
<text x="275.8" y="276.2" text-anchor="middle" class="cap"><tspan font-weight="normal">(</tspan>c<tspan font-weight="normal">)</tspan></text>
</svg>
</body></html>
